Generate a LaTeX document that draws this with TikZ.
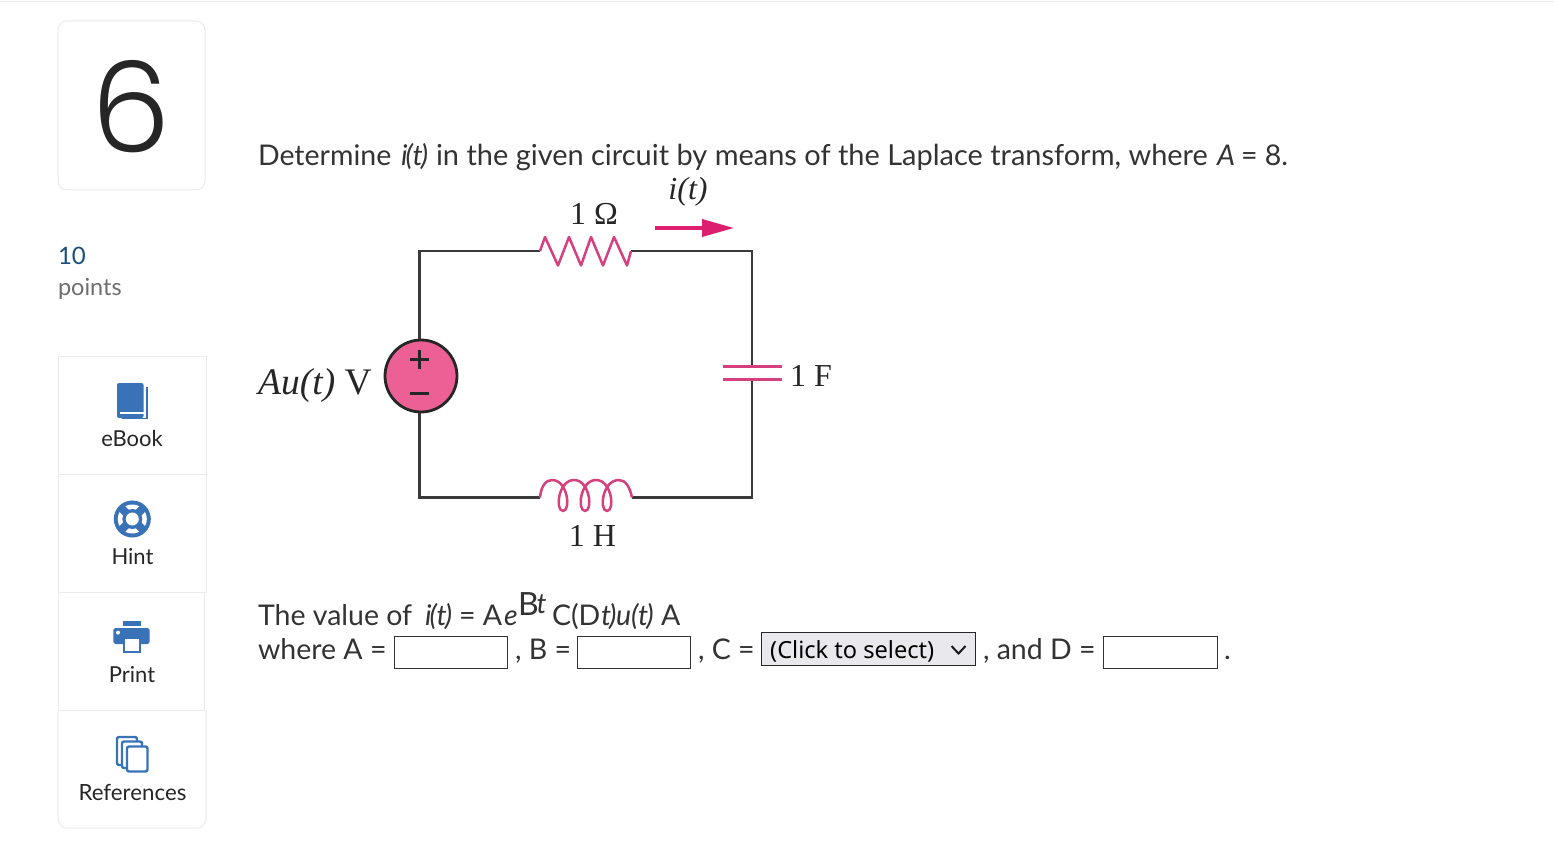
\documentclass[tikz,border=0pt]{standalone}
\usepackage{fontspec}
\setmainfont{Lato}
\newfontfamily\serifcirc{Liberation Serif}
\newfontfamily\selfont{Noto Sans}
\newfontfamily\lightfont{Poppins Light}
\definecolor{cardline}{HTML}{EBEBEB}
\definecolor{iconblue}{HTML}{3A72B8}
\definecolor{wire}{HTML}{3A3A3A}
\definecolor{pinkpart}{HTML}{D6407F}
\definecolor{pinkfill}{HTML}{EC6095}
\definecolor{pinkarrow}{HTML}{DC1F6E}
\definecolor{bodytext}{HTML}{333333}
\definecolor{ptsblue}{HTML}{1C4F80}
\definecolor{ptsgrey}{HTML}{6E6E6E}
\definecolor{selfill}{HTML}{E9E9ED}
\usetikzlibrary{arrows.meta}
\newcommand{\bodyfs}{\fontsize{28.5}{30}\selectfont}
\tikzset{
  lbl/.style={anchor=base west,inner sep=0pt,outer sep=0pt,text=bodytext,font=\bodyfs},
  ital/.style={lbl,font=\bodyfs\itshape},
  side/.style={anchor=base,inner sep=0pt,text=black!85,font=\fontsize{22}{24}\selectfont},
  circ/.style={anchor=base,inner sep=0pt,text=black!85,font=\fontsize{32}{34}\selectfont\serifcirc},
  card/.style={draw=cardline,line width=1pt},
  wireline/.style={draw=wire,line width=2.6pt,line join=miter,line cap=square},
  part/.style={draw=pinkpart,line width=2.5pt,line join=round},
  inbox/.style={draw=black!80,line width=1.1pt,fill=white,inner sep=0pt,minimum width=112.5pt,minimum height=32pt,anchor=north west},
  icon/.style={fill=iconblue,draw=none},
  iconout/.style={draw=iconblue,line width=2.4pt,rounded corners=2pt,fill=white},
}
\begin{document}
\begin{tikzpicture}[x=1pt,y=-1pt]
\useasboundingbox (0,0) rectangle (1554,850);
\fill[white] (0,0) rectangle (1554,850);
\draw[cardline] (0,1) -- (1554,1);
% number card
\draw[card,rounded corners=9pt] (58,21) rectangle (205,190);
\node[anchor=base,inner sep=0pt,text=black!85,font=\fontsize{126}{128}\selectfont\lightfont] (num) at (131.5,153) {6};
\node[lbl,text=ptsblue,font=\fontsize{24}{28}\selectfont] (pts) at (58,264) {10};
\node[lbl,text=ptsgrey,font=\fontsize{23.5}{26}\selectfont] (ptsw) at (58,295) {points};
% side panel
\draw[card] (58,474) -- (58,356) -- (206,356) -- (206,474);
\draw[card] (58,474) -- (206,474);
\draw[card] (58,474) -- (58,592) -- (206,592) -- (206,474);
\draw[card] (58,592) -- (58,710) -- (204.5,710) -- (204.5,592);
\draw[card] (58,710) -- (206,710);
\draw[card,rounded corners=9pt] (58,710) -- (58,828) -- (206,828) -- (206,710);
% book
\fill[icon,rounded corners=2pt] (117,383) rectangle (143.5,418);
\fill[white] (120,411.5) rectangle (146,414.2);
\draw[iconblue,line width=1.6pt] (147,387) -- (147,418.5) -- (122,418.5);
\node[side] (ebook) at (132,446) {eBook};
% lifebuoy
\fill[icon] (132.3,519) circle[radius=18.5];
\fill[white] (132.3,519) circle[radius=14.5];
\draw[iconblue,line width=8pt] (121.3,508) -- (143.3,530) (121.3,530) -- (143.3,508);
\fill[icon] (132.3,519) circle[radius=10];
\fill[white] (132.3,519) circle[radius=6.5];
\node[side] (hint) at (132.5,564) {Hint};
% printer
\fill[icon] (122.7,621) rectangle (140.7,625.5);
\fill[icon,rounded corners=2.5pt] (113.3,628) rectangle (149.7,644);
\fill[white] (118,632.6) circle[radius=2];
\draw[iconblue,line width=2pt,fill=white] (123.5,638) rectangle (140,652);
\node[side] (print) at (132,682) {Print};
% pages
\draw[iconout] (117,737) rectangle (137,765);
\draw[iconout] (122,741.5) rectangle (142,768);
\draw[iconout] (127,746.5) rectangle (147.5,771.5);
\node[side,font=\fontsize{22.3}{24}\selectfont] (refs) at (132.5,800) {References};
% heading
\node[lbl] (det) at (258,166) {Determine};
\node[ital] (it1) at (401,166) {i\kern-2pt(t\kern-2pt)};
\node[lbl,font=\fontsize{28.95}{30}\selectfont] (hd) at (436,166) {in the given circuit by means of the Laplace transform, where};
\node[ital] (Ahd) at (1217,166) {A};
\node[lbl] (eq8) at (1241,166) {= 8.};
% circuit
\node[circle,draw=black!85,line width=2.8pt,fill=pinkfill,minimum size=72pt,inner sep=0pt] (src) at (421,376) {};
\draw[black!85,line width=2.5pt] (419.5,350) -- (419.5,369) (410,359.5) -- (429,359.5) (410,393.5) -- (429,393.5);
\coordinate (tl) at (419.5,251);
\coordinate (tr) at (752,251);
\coordinate (br) at (752,497.5);
\coordinate (bl) at (419.5,497.5);
\coordinate (rL) at (540,251);
\coordinate (rR) at (631,251);
\coordinate (lL) at (540,497.5);
\coordinate (lR) at (632,497.5);
\coordinate (c1) at (752,366.7);
\coordinate (c2) at (752,379.5);
\draw[wireline] (src.north -| tl) -- (tl) -- (rL);
\draw[wireline] (rR) -- (tr) -- (c1);
\draw[wireline] (c2) -- (br) -- (lR);
\draw[wireline] (lL) -- (bl) -- (src.south -| bl);
\draw[part] (rL) -- (545,237) -- (558,265.5) -- (569,237) -- (581,265.5) -- (591,237) -- (603,265.5) -- (614,237) -- (627,265.5) -- (rR);
\draw[part] (lL) .. controls (541,486) and (546,480) .. (552,480)
  .. controls (568,480) and (571,511) .. (563,511)
  .. controls (555,511) and (558,480) .. (574,480)
  .. controls (590,480) and (593,511) .. (585,511)
  .. controls (577,511) and (580,480) .. (596,480)
  .. controls (612,480) and (615,511) .. (607,511)
  .. controls (599,511) and (602,480) .. (619,480)
  .. controls (626,480) and (630,488) .. (lR);
\draw[part,line width=3.2pt] (723,366.7) -- (781.5,366.7) (723,379.5) -- (781.5,379.5);
\coordinate (arrS) at (655,228);
\coordinate (arrE) at (734,228);
\draw[pinkarrow,line width=3.6pt,-{Triangle[length=32pt,width=17pt]}] (arrS) -- (arrE);
\node[circ] (rlab) at (594,225) {1 Ω};
\node[circ] (ilab) at (688,200) {\itshape i(t)};
\node[circ,anchor=base west,font=\fontsize{37.5}{39}\selectfont\serifcirc] (slab) at (258,394) {\itshape Au(t)\upshape\ V};
\node[circ,anchor=base west] (clab) at (790,386) {1 F};
\node[circ] (llab) at (592.5,546) {1 H};
% answer lines
\node[lbl] (val) at (258,625) {The value of};
\node[ital] (it2) at (425,625) {i\kern-2pt(t\kern-2pt)};
\node[lbl] (eqA) at (459,625) {= A};
\node[ital] (e) at (504,625) {e};
\node[lbl,font=\fontsize{32}{34}\selectfont] (B) at (518,615) {B};
\node[ital,font=\fontsize{28}{30}\selectfont\itshape] (t) at (536.5,613) {t};
\node[lbl] (CD) at (552,625) {C(D};
\node[ital] (t2) at (601,625) {t\kern-2pt)};
\node[ital] (ut) at (616,625) {u(t\kern-2pt)};
\node[lbl] (Aend) at (661,625) {A};
\node[lbl] (wh) at (258,659) {where A =};
\node[inbox] (a1) at (394,636) {};
\node[lbl] (bq) at (515,659) {, B =};
\node[inbox] (a2) at (577,636) {};
\node[lbl] (cq) at (698,659) {, C =};
\node[draw=black!85,line width=1.2pt,fill=selfill,anchor=north west,inner sep=0pt,minimum width=214pt,minimum height=33pt] (sel) at (761,632) {};
\node[anchor=base west,inner sep=0pt,text=black,font=\fontsize{23.6}{26}\selectfont\selfont] (seltxt) at (770,658) {(Click to select)};
\draw[black!90,line width=2pt] (951.5,646) -- (958.5,653.5) -- (965.5,646);
\node[lbl] (dq) at (983,659) {, and D =};
\node[inbox,minimum width=114pt] (a3) at (1103,636) {};
\node[lbl] (per) at (1224,659) {.};
\end{tikzpicture}
\end{document}
